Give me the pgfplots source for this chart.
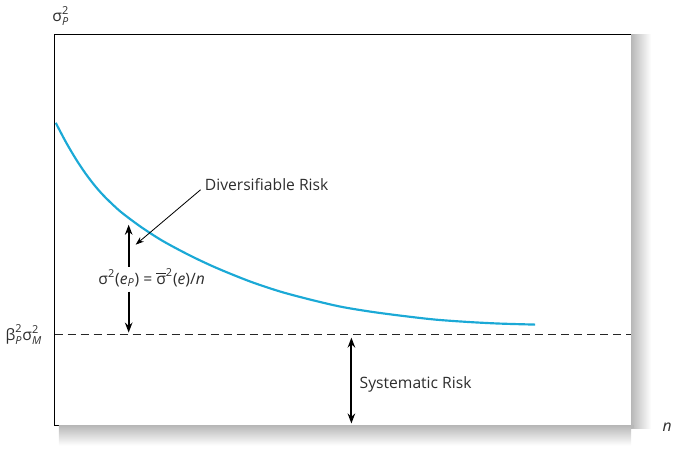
\documentclass[border=0pt]{standalone}
\usepackage{amsmath}
\usepackage{fontspec}
\setmainfont{Open Sans}
\usepackage{pgfplots}
\pgfplotsset{compat=1.18}
\usetikzlibrary{arrows.meta}
\definecolor{curve}{RGB}{27,169,214}
\definecolor{txt}{RGB}{45,45,45}
\begin{document}
\begin{tikzpicture}
\begin{axis}[
  x=0.6pt, y=0.6pt,
  xmin=0, xmax=577, ymin=0, ymax=391,
  ticks=none, clip=false,
  axis line style={line width=0.6pt, black},
  font=\fontsize{9.4}{11}\selectfont,
]
% page size
\path (axis cs:-54,-25) rectangle (axis cs:628,426);
% frame shadow
\shade[left color=black!28, right color=white] (axis cs:577,-3) rectangle (axis cs:597,391);
\shade[top color=black!28, bottom color=white] (axis cs:4,0) rectangle (axis cs:577,-20);
\fill[black!28] (axis cs:577,0) rectangle (axis cs:580,-3);

\addplot[curve, line width=1.3pt, smooth, tension=0.5] coordinates {
  (1,303) (11,284) (21,267) (31,252) (41,239) (51,228) (66,214) (86,199)
  (106,186) (126,175) (146,165) (166,156) (196,144) (226,134) (256,126)
  (286,119) (316,114) (346,110) (381,106) (416,103.5) (446,102) (481,101)
};
\addplot[black!85, line width=0.6pt, dash pattern=on 4.8pt off 3pt] coordinates {(0,91) (577,91)};

% diversifiable risk
\draw[-{Stealth[length=6pt,width=4.5pt]}, line width=1.1pt, black] (axis cs:74,150) -- (axis cs:74,201);
\draw[-{Stealth[length=6pt,width=4.5pt]}, line width=1.1pt, black] (axis cs:74,134) -- (axis cs:74,93);
\node[text=txt, fill=white, inner sep=1pt] at (axis cs:97,148)
  {$\text{σ}^{\text{2}}\text{(}\textit{e}_{\text{\itshape P}}\text{)}\text{ = }\overline{\text{σ}}^{\text{2}}\text{(\itshape e\upshape)/\itshape n}$};
\draw[-{Stealth[length=5pt,width=3.5pt]}, line width=0.5pt, black] (axis cs:146,236) -- (axis cs:81,181);
\node[text=txt, anchor=west, inner sep=0pt] at (axis cs:150,241) {Diversifiable Risk};

% systematic risk
\draw[{Stealth[length=6pt,width=4.5pt]}-{Stealth[length=6pt,width=4.5pt]}, line width=1.1pt, black] (axis cs:297,88) -- (axis cs:297,2);
\node[text=txt, anchor=west, inner sep=0pt] at (axis cs:305,41) {Systematic Risk};

% axis labels
\node[text=txt] at (axis cs:6,410) {$\text{σ}^{\text{2}}_{\text{\itshape P}}$};
\node[text=txt] at (axis cs:-31,91) {$\text{β}^{\text{2}}_{\text{\itshape P}}\text{σ}^{\text{2}}_{\text{\itshape M}}$};
\node[text=txt] at (axis cs:613,-2) {\itshape n};
\end{axis}
\end{tikzpicture}
\end{document}
